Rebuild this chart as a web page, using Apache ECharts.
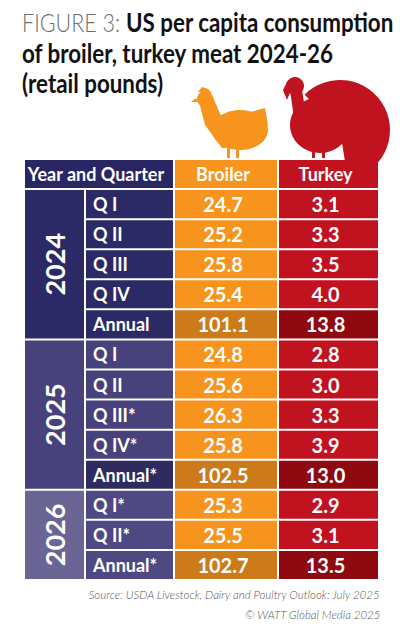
<!DOCTYPE html>
<html><head><meta charset="utf-8">
<script src="https://cdn.jsdelivr.net/npm/echarts@6/dist/echarts.min.js"></script>
<style>html,body{margin:0;background:#fff}#c{width:400px;height:637px}</style>
</head><body><div id="c"></div>
<script>
const years = ['2024','2025','2026'];
const quarters = [
  ['Q I','Q II','Q III','Q IV','Annual'],
  ['Q I','Q II','Q III*','Q IV*','Annual*'],
  ['Q I*','Q II*','Annual*']
];
const broiler = [[24.7,25.2,25.8,25.4,101.1],[24.8,25.6,26.3,25.8,102.5],[25.3,25.5,102.7]];
const turkey = [[3.1,3.3,3.5,4.0,13.8],[2.8,3.0,3.3,3.9,13.0],[2.9,3.1,13.5]];
const headers = ['Year and Quarter','Broiler','Turkey'];

const colEdges = [0,61,150,254,355];
const yearFill = ['#2b2a66','#47427b','#6b6596'];
const qFill = ['#2b2a66','#47427b','#4e4883'];
const qAnnFill = ['#2b2a66','#2f2b5e','#4e4883'];
const brFill='#f7941d', brAnn='#cc7a1a', tkFill='#c1121f', tkAnn='#8f0a10';

const cells=[];
cells.push([0,2,0,1,'#2a2563',headers[0],'center',18]);
cells.push([2,3,0,1,brFill,headers[1],'center',18]);
cells.push([3,4,0,1,tkFill,headers[2],'center',18]);
let r=1;
years.forEach((y,i)=>{
  const n=quarters[i].length;
  cells.push([0,1,r,r+n,yearFill[i],y,'year',27]);
  quarters[i].forEach((q,j)=>{
    const ann=j===n-1;
    cells.push([1,2,r+j,r+j+1,ann?qAnnFill[i]:qFill[i],q,'left',18]);
    cells.push([2,3,r+j,r+j+1,ann?brAnn:brFill,broiler[i][j].toFixed(1),'center',20]);
    cells.push([3,4,r+j,r+j+1,ann?tkAnn:tkFill,turkey[i][j].toFixed(1),'center',20]);
  });
  r+=n;
});
const data=cells.map(c=>[colEdges[c[0]],colEdges[c[1]],c[2],c[3],c[4],c[5],c[6],c[7]]);

const chart=echarts.init(document.getElementById('c'),null,{renderer:'svg'});
const F='Lato, "Open Sans", sans-serif';
const TS={x:22,scaleX:0.86,scaleY:1};
chart.setOption({
  backgroundColor:'#fff',animation:false,
  grid:{left:24,right:21,top:159,bottom:57},
  xAxis:{type:'value',min:0,max:355,show:false},
  yAxis:{type:'value',min:0,max:14,inverse:true,show:false},
  series:[{type:'custom',data:data,encode:{x:[0,1],y:[2,3]},
    renderItem:(p,api)=>{
      const a=api.coord([api.value(0),api.value(2)]);
      const b=api.coord([api.value(1),api.value(3)]);
      const x=a[0]+1,y=a[1]+1,w=b[0]-a[0]-2,h=b[1]-a[1]-2;
      const al=api.value(6), txt=api.value(5), fs=api.value(7);
      const font='bold '+fs+'px '+F;
      let t;
      if(al==='year') t={type:'text',x:x+w/2,y:y+h/2,rotation:Math.PI/2,style:{text:txt,fill:'#fff',font,align:'center',verticalAlign:'middle'}};
      else if(al==='left') t={type:'text',x:x+7,y:y+h/2,style:{text:txt,fill:'#fff',font,align:'left',verticalAlign:'middle'}};
      else t={type:'text',x:x+w/2-3,y:y+h/2,style:{text:txt,fill:'#fff',font,align:'center',verticalAlign:'middle'}};
      return {type:'group',children:[{type:'rect',shape:{x,y,width:w,height:h},style:{fill:api.value(4)}},t]};
    }}],
  graphic:[
    Object.assign({type:'text',y:9,style:{rich:{a:{font:'300 25px '+F,fill:'#6d6e71'},b:{font:'bold 26px '+F,fill:'#111'}},text:'{a|FIGURE 3: }{b|US per capita consumption}'}},TS),
    Object.assign({type:'text',y:40,style:{text:'of broiler, turkey meat 2024-26',font:'bold 26px '+F,fill:'#111'}},TS),
    Object.assign({type:'text',y:70,style:{text:'(retail pounds)',font:'bold 26px '+F,fill:'#111'}},TS),
    {type:'group',children:[
      {type:'ellipse',shape:{cx:240,cy:130,rx:28,ry:20},style:{fill:'#f7941d'}},
      {type:'polygon',shape:{points:[[198,98],[212,95],[222,118],[250,112],[265,108],[268,125],[250,148],[222,148],[205,125]]},style:{fill:'#f7941d'}},
      {type:'circle',shape:{cx:205,cy:99,r:8},style:{fill:'#f7941d'}},
      {type:'polygon',shape:{points:[[196,98],[191,102],[198,102]]},style:{fill:'#f7941d'}},
      {type:'polygon',shape:{points:[[198,92],[202,87],[208,89],[212,93]]},style:{fill:'#f7941d'}},
      {type:'rect',shape:{x:227,y:146,width:3,height:12},style:{fill:'#f7941d'}},
      {type:'rect',shape:{x:236,y:146,width:3,height:12},style:{fill:'#f7941d'}}
    ]},
    {type:'group',children:[
      {type:'sector',shape:{cx:340,cy:130,r0:0,r:50,startAngle:-Math.PI*0.75,endAngle:Math.PI*0.45},style:{fill:'#c1121f'}},
      {type:'ellipse',shape:{cx:320,cy:125,rx:30,ry:28},style:{fill:'#c1121f'}},
      {type:'circle',shape:{cx:295,cy:86,r:9},style:{fill:'#c1121f'}},
      {type:'polygon',shape:{points:[[290,90],[302,90],[306,115],[294,118]]},style:{fill:'#c1121f'}},
      {type:'polygon',shape:{points:[[287,82],[283,90],[287,100],[291,90]]},style:{fill:'#c1121f'}},
      {type:'rect',shape:{x:312,y:148,width:3,height:10},style:{fill:'#c1121f'}},
      {type:'rect',shape:{x:322,y:148,width:3,height:10},style:{fill:'#c1121f'}}
    ]},
    {type:'text',right:19,top:588,style:{text:'Source: USDA Livestock, Dairy and Poultry Outlook: July 2025',font:'italic 300 11.5px '+F,fill:'#555',align:'right'}},
    {type:'text',right:19,top:608,style:{text:'© WATT Global Media 2025',font:'italic 300 11.5px '+F,fill:'#555',align:'right'}}
  ]
});
</script></body></html>
